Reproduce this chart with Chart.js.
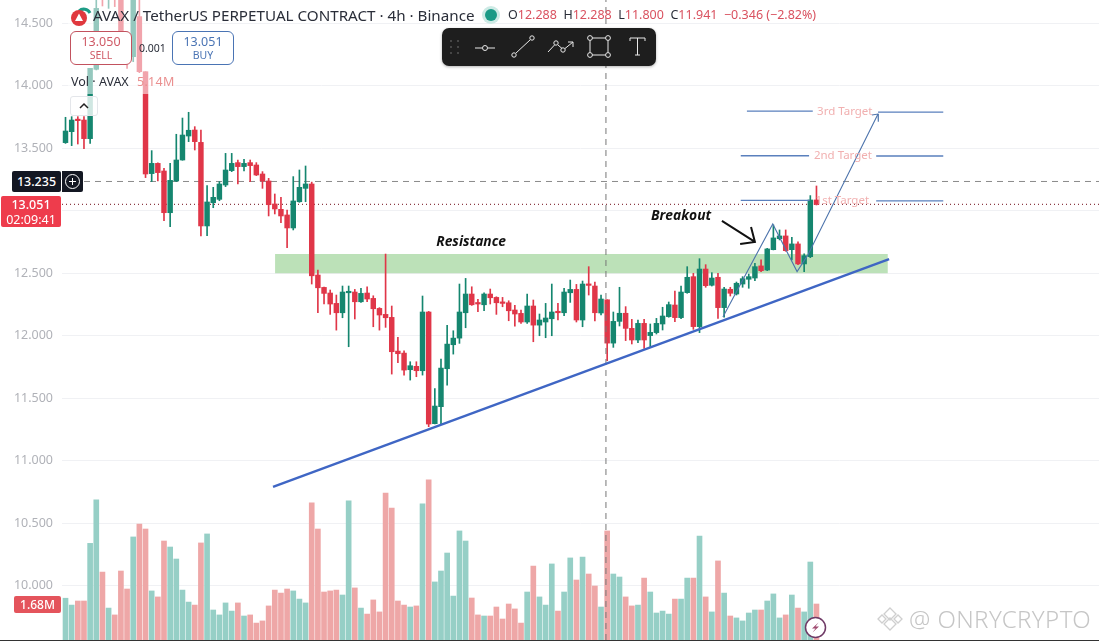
<!DOCTYPE html>
<html>
<head>
<meta charset="utf-8">
<title>AVAX / TetherUS 4h</title>
<script src="https://cdn.jsdelivr.net/npm/chart.js@4"></script>
<style>
  html, body { margin: 0; padding: 0; background: #fff; overflow: hidden; }
  #wrap { position: relative; width: 1099px; height: 644px; font-family: "Noto Sans", sans-serif; }
  canvas { position: absolute; left: 0; top: 0; }
  .o { position: absolute; white-space: nowrap; line-height: 1; }
  .btn { position: absolute; box-sizing: border-box; top: 31px; width: 62px; height: 34px; border-radius: 6px; background: #fff;
         border: 1px solid; text-align: center; font-size: 12.5px; line-height: 15px; padding-top: 2px; }
  .btn small { display: block; font-size: 10.5px; line-height: 13px; }
  .tag { position: absolute; color: #fff; text-align: center; font-weight: 500; border-radius: 2px; }
</style>
</head>
<body>
<div id="wrap">
  <canvas id="chart" width="1099" height="644"></canvas>

  <!-- legend block -->
  <div class="o" style="left:68px;top:0;width:108px;height:94px;background:rgba(255,255,255,.55)"></div>
  <svg class="o" style="left:70px;top:6px" width="22" height="22" viewBox="0 0 22 22">
    <path d="M9 5 a7 7 0 0 1 11 2" fill="none" stroke="#1d9c86" stroke-width="3"/>
    <circle cx="9" cy="12" r="8" fill="#e0383e"/>
    <path d="M9 7.5 L13 15 H5 Z" fill="#fff"/>
  </svg>
  <div class="o" style="left:93px;top:8px;font-size:15.2px;color:#2a2e39">AVAX / TetherUS PERPETUAL CONTRACT · 4h · Binance</div>
  <div class="o" style="left:485px;top:9px;width:12px;height:12px;border-radius:50%;background:#1a9a86;box-shadow:0 0 0 3px #cdeae5"></div>
  <div class="o" style="left:508px;top:9px;font-size:12.5px;color:#d9515f"><span style="color:#2a2e39">O</span>12.288 <span style="color:#2a2e39">&nbsp;H</span>12.288 <span style="color:#2a2e39">&nbsp;L</span>11.800 <span style="color:#2a2e39">&nbsp;C</span>11.941 &nbsp;−0.346 (−2.82%)</div>
  <div class="btn" style="left:70px;border-color:#c2525e;color:#cf5a66">13.050<small>SELL</small></div>
  <div class="o" style="left:139px;top:43px;font-size:10.5px;color:#2a2e39">0.001</div>
  <div class="btn" style="left:172px;border-color:#4a74b4;color:#4a74b4">13.051<small>BUY</small></div>
  <div class="o" style="left:71px;top:76px;font-size:12.5px;color:#2a2e39">Vol · AVAX</div>
  <div class="o" style="left:137px;top:76px;font-size:12.5px;color:#ea8f8f;letter-spacing:.3px">5.14M</div>
  <div class="o" style="left:70px;top:96px;width:28px;height:20px;box-sizing:border-box;border:1px solid #e4e6ea;border-radius:3px;background:rgba(255,255,255,.8)">
    <svg width="26" height="18" viewBox="0 0 26 18"><path d="M9 11 L13 7 L17 11" fill="none" stroke="#222" stroke-width="1.5"/></svg>
  </div>

  <!-- drawing toolbar -->
  <div class="o" style="left:442px;top:28px;width:214px;height:38px;border-radius:7px;background:#1e1e1e;box-shadow:0 1px 3px rgba(0,0,0,.3)">
    <svg width="214" height="38" viewBox="0 0 214 38" fill="none" stroke="#e8e8e8" stroke-width="1">
      <g fill="#555" stroke="none"><circle cx="9" cy="13" r="1"/><circle cx="16" cy="13" r="1"/><circle cx="9" cy="19" r="1"/><circle cx="16" cy="19" r="1"/><circle cx="9" cy="25" r="1"/><circle cx="16" cy="25" r="1"/></g>
      <path d="M33 20 H40 M46 20 H53"/><circle cx="43" cy="20" r="2.5"/>
      <path d="M74 25 L88 12"/><circle cx="72" cy="27" r="2.2"/><circle cx="90" cy="10" r="2.2"/>
      <path d="M106 24 L112.5 17 M116 17 L120 20.5 M123 20.5 L131 14 M126 14 H131 V19"/><circle cx="114" cy="15" r="2.2"/><circle cx="121" cy="22" r="2.2"/>
      <rect x="148" y="10" width="18" height="17"/><g fill="#1e1e1e"><circle cx="148" cy="10" r="2.4"/><circle cx="166" cy="10" r="2.4"/><circle cx="148" cy="27" r="2.4"/><circle cx="166" cy="27" r="2.4"/></g>
      <path d="M188 13 V10 H203 V13 M195.500 10 V27 M193 27 H198"/>
    </svg>
  </div>

  <!-- price tags -->
  <div class="tag" style="left:12px;top:171px;width:49px;height:21px;background:#131722;font-size:12.5px;line-height:21px">13.235</div>
  <div class="o" style="left:62px;top:171px;width:21px;height:21px;background:#131722;border-radius:0 2px 2px 0">
    <svg width="21" height="21" viewBox="0 0 21 21" fill="none" stroke="#fff"><circle cx="10.5" cy="10.5" r="7"/><path d="M10.5 7 V14 M7 10.5 H14"/></svg>
  </div>
  <div class="tag" style="left:1px;top:196px;width:60px;height:31px;background:#ee3c4c;font-size:12.5px;line-height:15px;padding-top:1px;box-sizing:border-box">13.051<br><span style="font-weight:400">02:09:41</span></div>
  <div class="tag" style="left:14px;top:596px;width:47px;height:17px;background:#e4545c;font-size:12px;line-height:17px">1.68M</div>

  <!-- bottom edge, lightning badge, watermark -->
  <div class="o" style="left:0;top:639.5px;width:1099px;height:1.5px;background:#333"></div>
  <svg class="o" style="left:804px;top:616px" width="23" height="23" viewBox="0 0 23 23">
    <circle cx="11.5" cy="11.5" r="10" fill="#fff" stroke="#6f3a66" stroke-width="1.5"/>
    <path d="M14.5 6.5 L8 12.5 H11.5 L8.500 16.5 L15 10.5 H11.5 Z" fill="#a04a70"/>
  </svg>
  <svg class="o" style="left:876px;top:606px" width="28" height="26" viewBox="0 0 28 26" fill="none" stroke="#cfcfcf" stroke-width="1.3">
    <path d="M14 2 L20 8 L14 14 L8 8 Z M14 12 L20 18 L14 24 L8 18 Z"/><path d="M2 13 L6 9 L10 13 L6 17 Z M18 13 L22 9 L26 13 L22 17 Z"/>
  </svg>
  <div class="o" style="left:909px;top:607px;font-size:24px;font-weight:300;color:#c6c6c6;letter-spacing:.4px">@ ONRYCRYPTO</div>
</div>

<script>
// candle values (oldest first)
const opens = [13.546,13.634,13.733,13.727,13.578,14.133,14.795,14.72,14.79,14.72,
  14.421,14.234,14.555,14.114,13.298,13.380,13.319,12.985,13.239,13.407,
  13.599,13.647,13.548,12.879,13.065,13.092,13.207,13.322,13.386,13.354,
  13.386,13.367,13.295,13.239,13.055,13.012,12.967,12.863,13.073,13.180,
  13.215,12.486,12.387,12.342,12.259,12.184,12.344,12.350,12.272,12.342,
  12.299,12.219,12.171,12.147,11.877,11.861,11.728,11.755,11.720,12.190,
  11.296,11.432,11.736,11.928,11.981,12.184,12.334,12.259,12.248,12.334,
  12.307,12.270,12.264,12.206,12.179,12.110,12.238,12.085,12.110,12.136,
  12.190,12.184,12.344,12.371,12.126,12.414,12.398,12.182,12.288,11.941,
  12.115,12.180,12.059,11.966,12.099,12.001,12.025,12.094,12.153,12.246,
  12.145,12.345,12.473,12.073,12.534,12.404,12.468,12.225,12.372,12.334,
  12.414,12.452,12.462,12.559,12.526,12.689,12.777,12.799,12.689,12.735,
  12.575,12.633,13.087];
const highs = [13.749,13.754,13.754,13.754,14.141,14.701,14.81,14.81,14.81,14.78,
  14.434,14.75,14.70,14.114,13.482,13.385,13.340,13.380,13.613,13.743,
  13.789,13.674,13.647,13.202,13.188,13.234,13.460,13.460,13.407,13.412,
  13.407,13.386,13.314,13.260,13.135,13.108,13.007,13.274,13.327,13.359,
  13.23,12.526,12.39,12.366,12.326,12.398,12.398,12.371,12.379,12.392,
  12.320,12.225,12.654,12.238,11.987,11.880,11.792,11.792,12.318,12.195,
  11.576,11.813,12.083,12.040,12.414,12.459,12.392,12.291,12.344,12.374,
  12.312,12.307,12.280,12.243,12.206,12.334,12.286,12.174,12.259,12.414,
  12.259,12.379,12.446,12.411,12.438,12.553,12.430,12.326,12.288,12.190,
  12.388,12.233,12.131,12.126,12.131,12.094,12.139,12.228,12.270,12.358,
  12.398,12.553,12.500,12.617,12.569,12.505,12.500,12.388,12.388,12.430,
  12.473,12.494,12.580,12.607,12.700,12.887,12.847,12.847,12.788,12.751,
  12.655,13.122,13.199];
const lows = [13.540,13.522,13.535,13.498,13.540,14.128,14.640,14.621,14.635,14.421,
  14.141,14.194,14.106,13.266,13.234,13.239,12.921,12.873,13.234,13.405,
  13.554,13.487,12.799,12.801,13.025,13.081,13.194,13.314,13.215,13.319,
  13.234,13.282,13.180,12.959,12.975,12.905,12.705,12.847,13.068,13.073,
  12.414,12.184,12.254,12.171,12.045,12.144,11.912,12.134,12.267,12.272,
  12.072,12.045,12.067,11.693,11.784,11.685,11.645,11.672,11.685,11.272,
  11.293,11.290,11.605,11.853,11.939,12.064,12.243,12.192,12.200,12.254,
  12.171,12.232,12.120,12.077,12.099,12.099,11.952,12.000,11.984,12.000,
  12.126,12.160,12.267,12.110,12.072,12.326,12.118,12.166,11.800,11.907,
  12.078,11.961,11.934,11.945,11.899,11.913,12.014,12.046,12.148,12.113,
  12.137,12.340,12.051,12.025,12.388,12.398,12.139,12.148,12.318,12.326,
  12.388,12.380,12.441,12.513,12.521,12.687,12.767,12.676,12.607,12.569,
  12.513,12.625,13.047];
const closes = [13.639,13.727,13.722,13.578,14.141,14.621,14.715,14.79,14.72,14.434,
  14.234,14.70,14.114,13.295,13.380,13.306,12.985,13.244,13.407,13.607,
  13.645,13.554,12.879,13.071,13.108,13.215,13.327,13.380,13.354,13.380,
  13.362,13.287,13.239,13.049,13.015,12.959,12.863,13.079,13.188,13.215,
  12.480,12.384,12.339,12.254,12.184,12.350,12.350,12.272,12.339,12.294,
  12.216,12.166,12.144,11.872,11.856,11.725,11.760,11.720,12.190,11.293,
  11.437,11.741,11.933,11.981,12.190,12.334,12.248,12.254,12.334,12.304,
  12.264,12.259,12.200,12.174,12.110,12.238,12.085,12.126,12.142,12.190,
  12.184,12.350,12.371,12.126,12.414,12.403,12.184,12.294,11.941,12.115,
  12.180,12.059,11.966,12.099,11.966,12.027,12.099,12.158,12.249,12.145,
  12.350,12.468,12.073,12.534,12.401,12.462,12.225,12.374,12.340,12.420,
  12.457,12.473,12.553,12.521,12.695,12.783,12.799,12.681,12.735,12.575,
  12.641,13.087,13.051];
// volume in millions
const volumes = [1.95,1.63,1.82,1.82,4.51,6.54,3.17,1.49,1.17,3.22,
  2.38,4.81,5.41,5.18,2.29,2.01,4.62,4.34,3.78,2.33,
  1.77,1.63,4.53,4.95,1.40,1.17,1.73,1.35,1.73,1.12,
  1.17,0.79,0.89,1.59,2.33,2.19,2.38,2.29,1.91,1.73,
  6.40,5.18,2.24,2.29,2.33,2.10,6.49,2.43,1.49,1.21,
  1.87,1.31,6.86,6.16,1.82,1.63,1.54,1.59,6.35,7.47,
  2.71,3.22,4.06,2.05,5.09,4.62,1.96,1.17,1.12,1.12,
  1.54,0.98,1.68,1.45,0.79,2.24,3.45,2.01,1.63,3.55,
  1.35,2.24,3.83,2.80,3.87,3.08,2.52,1.54,5.09,3.08,
  2.94,2.01,1.59,1.63,2.89,2.24,1.26,1.35,1.21,1.91,
  1.91,2.89,2.89,4.85,2.01,1.31,3.69,2.19,1.12,1.03,
  0.89,1.26,1.40,1.40,1.82,2.15,1.03,1.17,2.10,1.49,
  1.31,3.64,1.68];

const priceTicks = [10, 10.5, 11, 11.5, 12, 12.5, 13, 13.5, 14, 14.5];

// drawings on the chart: x in candle numbers, y in price
const zoneX = [34.04, 133.6];
const zoneTop = 12.655;
const zoneBottom = 12.5;
const trendX = [33.71, 133.8];
const trendY = [10.789, 12.614];
const zigzagX = [106.8, 114.9, 118.85, 120.6, 132.0];
const zigzagY = [12.150, 12.895, 12.514, 12.646, 13.775];
const arrowHeadX = [131.0, 132.0, 132.05];
const arrowHeadY = [13.767, 13.775, 13.714];
const breakoutX = [106.64, 112.0, null, 111.37, 112.0, 109.6];
const breakoutY = [12.919, 12.751, null, 12.871, 12.751, 12.735];
const targetX = [110.7, 121.4, null, 132.0, 142.6, null, 109.7, 120.8, null, 131.7, 142.6, null, 109.7, 120.9, null, 131.7, 142.6];
const targetY = [13.799, 13.799, null, 13.791, 13.791, null, 13.441, 13.441, null, 13.439, 13.439, null, 13.083, 13.083, null, 13.079, 13.079];
const crosshairCandle = 87.8;
const crosshairPrice = 13.235;
const lastPrice = 13.051;
const xStart = -0.57, xEnd = 167.9;

const labelTexts = ["Resistance", "Breakout", "3rd Target", "2nd Target", "1st Target"];
const labelX = [65.9, 100.0, 126.6, 126.3, 126.2];
const labelY = [12.751, 12.959, 13.791, 13.439, 13.079];

const GREEN = "#15866f", RED = "#e03648", VOL_GREEN = "#96cfc6", VOL_RED = "#eea7a7";
const isUp = closes.map((c, i) => c >= opens[i]);

function pts(xs, ys) {
  return xs.map((x, i) => ({ x: x, y: ys[i] }));
}
function lineSet(xs, ys, color, width, order, extra) {
  return Object.assign({
    type: "line", data: pts(xs, ys), borderColor: color, borderWidth: width,
    pointRadius: 0, tension: 0, order: order, yAxisID: "y"
  }, extra || {});
}

// text notes placed through the chart scales
const notesPlugin = {
  id: "notes",
  afterDatasetsDraw(chart) {
    const ctx = chart.ctx, sx = chart.scales.x, sy = chart.scales.y;
    ctx.save();
    ctx.textAlign = "center";
    ctx.textBaseline = "middle";
    labelTexts.forEach((t, i) => {
      const isNote = i < 2;
      ctx.font = isNote ? "italic 700 13.8px 'Open Sans'" : "11.5px 'Noto Sans'";
      ctx.fillStyle = isNote ? "#111" : "#f1b0b0";
      ctx.fillText(t, sx.getPixelForValue(labelX[i]), sy.getPixelForValue(labelY[i]));
    });
    ctx.restore();
  }
};

new Chart(document.getElementById("chart"), {
  type: "bar",
  data: {
    datasets: [
      // resistance zone
      lineSet(zoneX, [zoneTop, zoneTop], "transparent", 0, 30, {
        fill: { value: zoneBottom }, backgroundColor: "rgba(165,215,160,.75)"
      }),
      {
        label: "Volume", yAxisID: "vol", order: 25, grouped: false, barThickness: 5,
        data: volumes.map((v, i) => ({ x: i, y: v })),
        backgroundColor: isUp.map(u => u ? VOL_GREEN : VOL_RED)
      },
      lineSet([xStart, xEnd], [crosshairPrice, crosshairPrice], "#8a8a8a", 1, 22, { borderDash: [6, 5] }),
      lineSet([xStart, xEnd], [lastPrice, lastPrice], "#8c3a44", 1.2, 21, { borderDash: [1, 3] }),
      {
        label: "Wick", yAxisID: "y", order: 12, grouped: false, barThickness: 1,
        data: lows.map((l, i) => ({ x: i, y: [l, highs[i]] })),
        backgroundColor: isUp.map(u => u ? GREEN : RED)
      },
      {
        label: "Body", yAxisID: "y", order: 11, grouped: false, barThickness: 4.8, minBarLength: 1.5,
        data: opens.map((o, i) => ({ x: i, y: [o, closes[i]] })),
        backgroundColor: isUp.map(u => u ? GREEN : RED)
      },
      lineSet([crosshairCandle, crosshairCandle], [9.564, 14.688], "#777", 1, 8, { borderDash: [6, 5] }),
      lineSet(targetX, targetY, "#5a80bd", 1.3, 7),
      lineSet(trendX, trendY, "#3f66c4", 2.4, 5),
      lineSet(zigzagX, zigzagY, "#4d74ac", 1.1, 6),
      lineSet(arrowHeadX, arrowHeadY, "#4d74ac", 1.1, 6),
      lineSet(breakoutX, breakoutY, "#111", 2, 4)
    ]
  },
  plugins: [notesPlugin],
  options: {
    responsive: false,
    animation: false,
    layout: { padding: { left: 0, right: 0, top: 0, bottom: 4 } },
    plugins: { legend: { display: false }, tooltip: { enabled: false } },
    scales: {
      x: { type: "linear", min: xStart, max: xEnd, display: false, offset: false },
      y: {
        position: "left", min: 9.564, max: 14.688,
        afterFit(s) { s.width = 62; s.paddingTop = 0; s.paddingBottom = 0; },
        afterBuildTicks(s) { s.ticks = priceTicks.map(v => ({ value: v })); },
        grid: { color: "#f0f1f4", drawTicks: false },
        border: { display: false },
        ticks: {
          autoSkip: false, padding: 9, color: "#b0b2b8",
          font: { family: "Noto Sans", size: 12.5 },
          callback: v => v.toFixed(3)
        }
      },
      vol: { position: "right", display: false, min: 0, max: 29.87 }
    }
  }
});
</script>
</body>
</html>
